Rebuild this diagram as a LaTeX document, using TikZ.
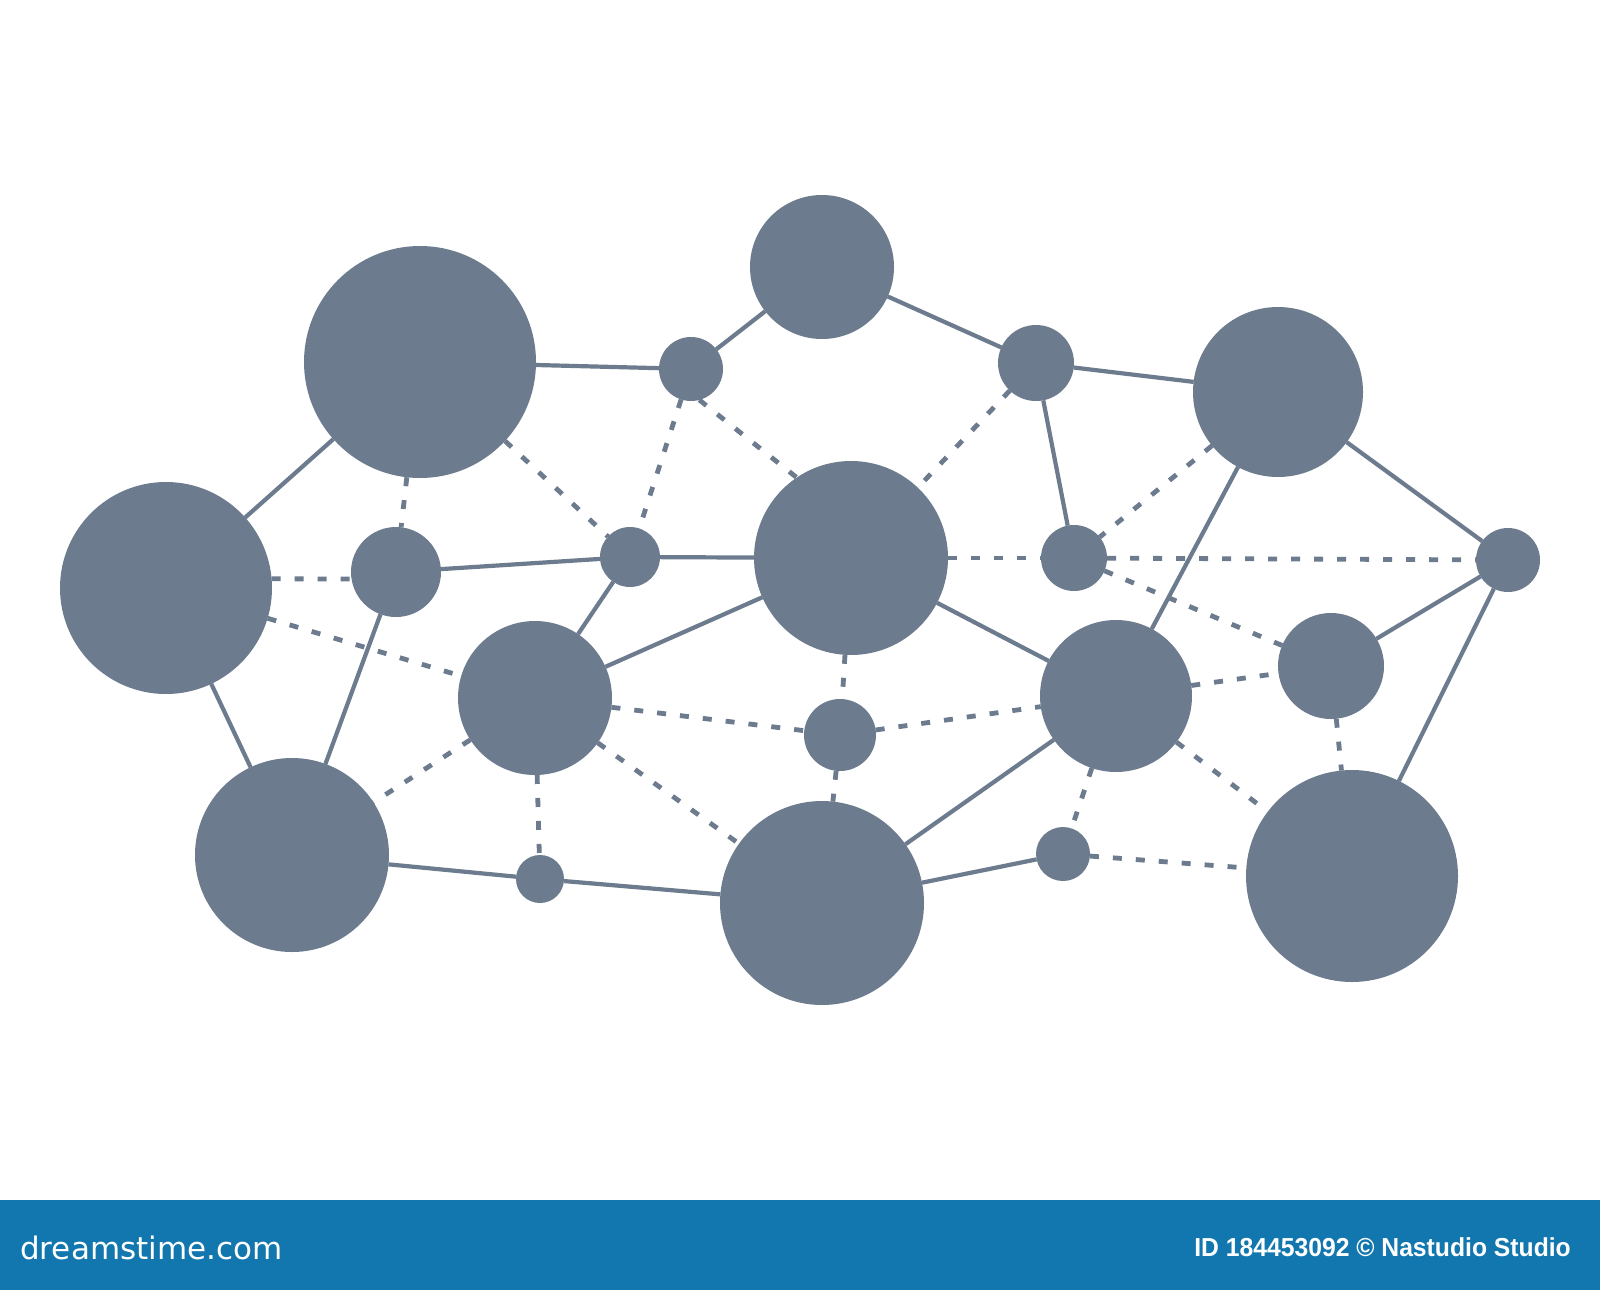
\documentclass[tikz,border=0pt]{standalone}
\usepackage{fontspec}
\newfontfamily\barfont{Liberation Sans}
\newfontfamily\logofont{DejaVu Sans}
\definecolor{nodecol}{RGB}{108,123,142}
\definecolor{barcol}{RGB}{17,119,174}
\begin{document}
\begin{tikzpicture}[x=1pt,y=-1pt,
  dot/.style={circle, fill=nodecol, inner sep=0pt, outer sep=0pt, minimum size=#1},
  solidlink/.style={draw=nodecol, line width=4.2pt},
  dashlink/.style={draw=nodecol, line width=4.8pt, dash pattern=on 9pt off 14pt},
  bartext/.style={text=white, inner sep=0pt}]
\useasboundingbox (0,0) rectangle (1600,1290);
\fill[white] (0,0) rectangle (1600,1290);
\fill[barcol] (0,1200) rectangle (1600,1290);

% circles
\node[dot=232pt] (A) at (420,362) {};
\node[dot=212pt] (B) at (166,588) {};
\node[dot=90pt]  (C) at (396,572) {};
\node[dot=194pt] (D) at (292,855) {};
\node[dot=154pt] (E) at (535,698) {};
\node[dot=60pt]  (F) at (630,557) {};
\node[dot=64pt]  (G) at (691,369) {};
\node[dot=144pt] (H) at (822,267) {};
\node[dot=194pt] (I) at (851,558) {};
\node[dot=72pt]  (J) at (840,735) {};
\node[dot=204pt] (K) at (822,903) {};
\node[dot=48pt]  (L) at (540,879) {};
\node[dot=76pt]  (M) at (1036,363) {};
\node[dot=170pt] (N) at (1278,392) {};
\node[dot=66pt]  (O) at (1074,558) {};
\node[dot=152pt] (P) at (1116,696) {};
\node[dot=106pt] (Q) at (1331,666) {};
\node[dot=64pt]  (R) at (1508,560) {};
\node[dot=212pt] (S) at (1352,876) {};
\node[dot=54pt]  (T) at (1063,854) {};

% solid connectors
\foreach \a/\b in {A/B, A/G, G/H, H/M, M/N, M/O, N/R, N/P, R/Q, R/S,
                   C/F, F/I, F/E, E/I, I/P, B/D, C/D, D/L, L/K, K/P, K/T}
  \draw[solidlink] (\a) -- (\b);

% dashed connectors
\foreach \a/\b in {A/C, A/F, G/F, M/I, N/O, O/R, O/Q, I/O, E/D, E/L,
                   E/J, E/K, I/J, J/K, J/P, P/Q, P/T, P/S, Q/S, T/S, B/E}
  \draw[dashlink] (\a) -- (\b);
\draw[dashlink] (B.5) -- (C.189);
\draw[dashlink] (G.-75) -- (I.124);

% bottom bar texts
\node[bartext, anchor=west, font=\logofont\fontsize{31}{31}\selectfont] (logo) at (20,1248) {dreamstime.com};
\node[bartext, anchor=east, font=\barfont\bfseries\fontsize{26}{26}\selectfont] (credit) at (1571,1247) {\scalebox{0.95}[1]{ID 184453092 © Nastudio Studio}};
\end{tikzpicture}
\end{document}
